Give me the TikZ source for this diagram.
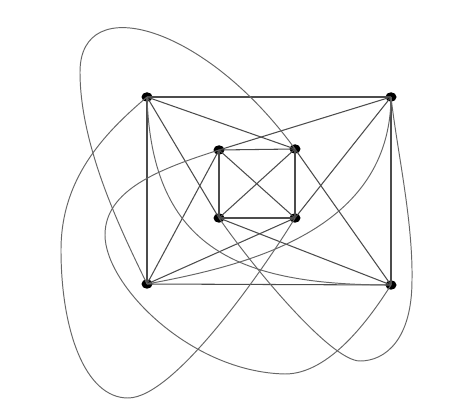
\documentclass[tikz,border=0pt]{standalone}
\usetikzlibrary{shapes.geometric}
\begin{document}
\begin{tikzpicture}[x=0.02cm,y=-0.02cm,
  vtx/.style={ellipse,fill=black,inner sep=0pt,minimum width=0.22cm,minimum height=0.19cm},
  edge/.style={draw=black!70,line width=0.6pt},
  arc/.style={draw=black!60,line width=0.55pt}]
\useasboundingbox (0,0) rectangle (474,412);
\node[vtx] (A) at (147,97) {};
\node[vtx] (B) at (391,97) {};
\node[vtx] (C) at (147,284) {};
\node[vtx] (D) at (391,285) {};
\node[vtx] (a) at (219,150) {};
\node[vtx] (b) at (295,149) {};
\node[vtx] (c) at (219,218) {};
\node[vtx] (d) at (295,218) {};
% straight edges
\draw[edge] (A.center) -- (B.center);
\draw[edge] (A.center) -- (C.center);
\draw[edge] (B.center) -- (D.center);
\draw[edge] (C.center) -- (D.center);
\draw[edge] (a.center) -- (b.center);
\draw[edge] (a.center) -- (c.center);
\draw[edge] (b.center) -- (d.center);
\draw[edge] (c.center) -- (d.center);
\draw[edge] (a.center) -- (d.center);
\draw[edge] (b.center) -- (c.center);
\draw[edge] (A.center) -- (b.center);
\draw[edge] (A.center) -- (c.center);
\draw[edge] (B.center) -- (a.center);
\draw[edge] (B.center) -- (d.center);
\draw[edge] (C.center) -- (a.center);
\draw[edge] (C.center) -- (d.center);
\draw[edge] (D.center) -- (b.center);
\draw[edge] (D.center) -- (c.center);
% curved edges
\draw[arc] (C.center) .. controls (125,238) and (80,150) .. (80,72)
  .. controls (80,-10) and (205,25) .. (b.center);
\draw[arc] (A.center) .. controls (102,135) and (61,180) .. (61,250)
  .. controls (61,330) and (85,398) .. (128,398)
  .. controls (175,398) and (265,267) .. (d.center);
\draw[arc] (a.center) .. controls (159,169) and (105,190) .. (105,235)
  .. controls (105,285) and (190,372) .. (285,374)
  .. controls (330,374) and (370,318) .. (D.center);
\draw[arc] (A.center) .. controls (152,250) and (240,285) .. (D.center);
\draw[arc] (B.center) .. controls (390,230) and (250,265) .. (C.center);
\draw[arc] (B.center) .. controls (397,150) and (413,220) .. (412,280)
  .. controls (412,340) and (385,361) .. (360,361)
  .. controls (330,361) and (250,263) .. (c.center);
\end{tikzpicture}
\end{document}
